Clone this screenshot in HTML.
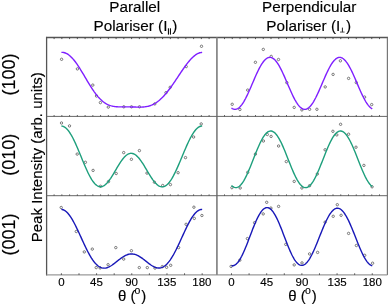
<!DOCTYPE html>
<html><head><meta charset="utf-8">
<style>
html,body{margin:0;padding:0;background:#fff;}
body{width:389px;height:305px;overflow:hidden;position:relative;}
svg{position:absolute;left:0;top:0;will-change:transform;}
text{font-family:"Liberation Sans",sans-serif;fill:#000;stroke:#000;stroke-width:0.15px;}
</style></head><body>
<svg width="389" height="305" viewBox="0 0 389 305">

<text x="109.2" y="12.0" font-size="15.3">Parallel</text>
<text x="93.5" y="30.7" font-size="15.3">Polariser (I</text>
<text x="172.3" y="30.7" font-size="15.3">)</text>
<rect x="167.9" y="28.3" width="1.1" height="6.3" fill="#111"/>
<rect x="169.9" y="28.3" width="1.1" height="6.3" fill="#111"/>
<text x="262" y="12.4" font-size="15.3">Perpendicular</text>
<text x="266.3" y="30.7" font-size="15.3">Polariser (I</text>
<text x="346" y="30.7" font-size="15.3">)</text>
<rect x="341.9" y="27.6" width="1" height="4.6" fill="#222"/>
<rect x="340" y="31.6" width="4.6" height="0.9" fill="#444"/>
<text transform="translate(14.5,74.6) rotate(-90)" text-anchor="middle" font-size="18">(100)</text>
<text transform="translate(14.5,154.7) rotate(-90)" text-anchor="middle" font-size="18">(010)</text>
<text transform="translate(14.5,234.5) rotate(-90)" text-anchor="middle" font-size="18">(001)</text>
<text transform="translate(42.1,157.2) rotate(-90)" text-anchor="middle" font-size="15">Peak Intensity (arb. units)</text>
<g font-size="11.5" text-anchor="middle">
<text x="61.4" y="285.9">0</text><text x="96.5" y="285.9">45</text><text x="131.6" y="285.9">90</text><text x="166.8" y="285.9">135</text><text x="201.9" y="285.9">180</text>
<text x="231.5" y="285.9">0</text><text x="266.7" y="285.9">45</text><text x="301.9" y="285.9">90</text><text x="337.1" y="285.9">135</text><text x="372.3" y="285.9">180</text>
</g>
<text x="118" y="300.5" font-size="15">θ (<tspan font-size="10.5" dx="-0.9" dy="-6.6">o</tspan><tspan dx="0.9" dy="6.6">)</tspan></text>
<text x="288.3" y="300.5" font-size="15">θ (<tspan font-size="10.5" dx="-0.9" dy="-6.6">o</tspan><tspan dx="0.9" dy="6.6">)</tspan></text>

<g stroke="#555" stroke-width="1.3" fill="none"><line x1="46.6" y1="36.9" x2="46.6" y2="275.5"/><line x1="46.0" y1="37.5" x2="388.0" y2="37.5"/></g>
<line x1="387.4" y1="37.5" x2="387.4" y2="274.9" stroke="#777" stroke-width="1.2"/>
<line x1="46.6" y1="274.9" x2="387.4" y2="274.9" stroke="#9a9a9a" stroke-width="1.2"/>
<line x1="216.9" y1="37.5" x2="216.9" y2="274.9" stroke="#8a8a8a" stroke-width="1.8"/>
<line x1="46.6" y1="116.4" x2="387.4" y2="116.4" stroke="#666" stroke-width="1"/>
<line x1="46.6" y1="195.7" x2="387.4" y2="195.7" stroke="#666" stroke-width="1"/>
<path d="M54.10,37.5 v1.6 M54.10,116.4 v-1.3 M54.10,195.7 v-1.3 M61.85,37.5 v1.6 M61.85,116.4 v-1.3 M61.85,195.7 v-1.3 M69.60,37.5 v1.6 M69.60,116.4 v-1.3 M69.60,195.7 v-1.3 M77.35,37.5 v1.6 M77.35,116.4 v-1.3 M77.35,195.7 v-1.3 M85.10,37.5 v1.6 M85.10,116.4 v-1.3 M85.10,195.7 v-1.3 M92.85,37.5 v1.6 M92.85,116.4 v-1.3 M92.85,195.7 v-1.3 M100.60,37.5 v1.6 M100.60,116.4 v-1.3 M100.60,195.7 v-1.3 M108.35,37.5 v1.6 M108.35,116.4 v-1.3 M108.35,195.7 v-1.3 M116.10,37.5 v1.6 M116.10,116.4 v-1.3 M116.10,195.7 v-1.3 M123.85,37.5 v1.6 M123.85,116.4 v-1.3 M123.85,195.7 v-1.3 M131.60,37.5 v1.6 M131.60,116.4 v-1.3 M131.60,195.7 v-1.3 M139.35,37.5 v1.6 M139.35,116.4 v-1.3 M139.35,195.7 v-1.3 M147.10,37.5 v1.6 M147.10,116.4 v-1.3 M147.10,195.7 v-1.3 M154.85,37.5 v1.6 M154.85,116.4 v-1.3 M154.85,195.7 v-1.3 M162.60,37.5 v1.6 M162.60,116.4 v-1.3 M162.60,195.7 v-1.3 M170.35,37.5 v1.6 M170.35,116.4 v-1.3 M170.35,195.7 v-1.3 M178.10,37.5 v1.6 M178.10,116.4 v-1.3 M178.10,195.7 v-1.3 M185.85,37.5 v1.6 M185.85,116.4 v-1.3 M185.85,195.7 v-1.3 M193.60,37.5 v1.6 M193.60,116.4 v-1.3 M193.60,195.7 v-1.3 M201.35,37.5 v1.6 M201.35,116.4 v-1.3 M201.35,195.7 v-1.3 M209.10,37.5 v1.6 M209.10,116.4 v-1.3 M209.10,195.7 v-1.3 M61.40,274.9 v-1.6 M79.00,274.9 v-1.6 M96.59,274.9 v-1.6 M114.19,274.9 v-1.6 M131.78,274.9 v-1.6 M149.38,274.9 v-1.6 M166.97,274.9 v-1.6 M184.56,274.9 v-1.6 M202.16,274.9 v-1.6 M224.50,37.5 v1.6 M224.50,116.4 v-1.3 M224.50,195.7 v-1.3 M232.25,37.5 v1.6 M232.25,116.4 v-1.3 M232.25,195.7 v-1.3 M240.00,37.5 v1.6 M240.00,116.4 v-1.3 M240.00,195.7 v-1.3 M247.75,37.5 v1.6 M247.75,116.4 v-1.3 M247.75,195.7 v-1.3 M255.50,37.5 v1.6 M255.50,116.4 v-1.3 M255.50,195.7 v-1.3 M263.25,37.5 v1.6 M263.25,116.4 v-1.3 M263.25,195.7 v-1.3 M271.00,37.5 v1.6 M271.00,116.4 v-1.3 M271.00,195.7 v-1.3 M278.75,37.5 v1.6 M278.75,116.4 v-1.3 M278.75,195.7 v-1.3 M286.50,37.5 v1.6 M286.50,116.4 v-1.3 M286.50,195.7 v-1.3 M294.25,37.5 v1.6 M294.25,116.4 v-1.3 M294.25,195.7 v-1.3 M302.00,37.5 v1.6 M302.00,116.4 v-1.3 M302.00,195.7 v-1.3 M309.75,37.5 v1.6 M309.75,116.4 v-1.3 M309.75,195.7 v-1.3 M317.50,37.5 v1.6 M317.50,116.4 v-1.3 M317.50,195.7 v-1.3 M325.25,37.5 v1.6 M325.25,116.4 v-1.3 M325.25,195.7 v-1.3 M333.00,37.5 v1.6 M333.00,116.4 v-1.3 M333.00,195.7 v-1.3 M340.75,37.5 v1.6 M340.75,116.4 v-1.3 M340.75,195.7 v-1.3 M348.50,37.5 v1.6 M348.50,116.4 v-1.3 M348.50,195.7 v-1.3 M356.25,37.5 v1.6 M356.25,116.4 v-1.3 M356.25,195.7 v-1.3 M364.00,37.5 v1.6 M364.00,116.4 v-1.3 M364.00,195.7 v-1.3 M371.75,37.5 v1.6 M371.75,116.4 v-1.3 M371.75,195.7 v-1.3 M379.50,37.5 v1.6 M379.50,116.4 v-1.3 M379.50,195.7 v-1.3 M231.50,274.9 v-1.6 M249.09,274.9 v-1.6 M266.69,274.9 v-1.6 M284.29,274.9 v-1.6 M301.88,274.9 v-1.6 M319.48,274.9 v-1.6 M337.07,274.9 v-1.6 M354.67,274.9 v-1.6 M372.26,274.9 v-1.6" stroke="#444" stroke-width="0.9" fill="none"/>
<g fill="none" stroke="#6a6a6a" stroke-width="0.9"><circle cx="61.6" cy="59.3" r="1.2"/><circle cx="77.4" cy="68.9" r="1.2"/><circle cx="92.8" cy="85.1" r="1.2"/><circle cx="96.5" cy="96" r="1.2"/><circle cx="100.4" cy="102.6" r="1.2"/><circle cx="108.3" cy="107.1" r="1.2"/><circle cx="123.8" cy="106.8" r="1.2"/><circle cx="131.5" cy="106.8" r="1.2"/><circle cx="139.5" cy="106.8" r="1.2"/><circle cx="154.8" cy="103.9" r="1.2"/><circle cx="166" cy="92.7" r="1.2"/><circle cx="170.2" cy="87.3" r="1.2"/><circle cx="186.2" cy="66.6" r="1.2"/><circle cx="201.5" cy="46.3" r="1.2"/><circle cx="232.2" cy="104.3" r="1.2"/><circle cx="239.9" cy="109.5" r="1.2"/><circle cx="247.7" cy="90.1" r="1.2"/><circle cx="255.4" cy="62.3" r="1.2"/><circle cx="263.3" cy="49.4" r="1.2"/><circle cx="271.2" cy="56.4" r="1.2"/><circle cx="278.5" cy="59.5" r="1.2"/><circle cx="286.8" cy="82.6" r="1.2"/><circle cx="294.2" cy="107.4" r="1.2"/><circle cx="301.9" cy="109.9" r="1.2"/><circle cx="309.6" cy="109.3" r="1.2"/><circle cx="316.9" cy="109.3" r="1.2"/><circle cx="325.2" cy="86.9" r="1.2"/><circle cx="333.1" cy="74.4" r="1.2"/><circle cx="340.4" cy="60.8" r="1.2"/><circle cx="348.6" cy="78.4" r="1.2"/><circle cx="356.3" cy="82.6" r="1.2"/><circle cx="364.6" cy="97.1" r="1.2"/><circle cx="371.7" cy="104.6" r="1.2"/><circle cx="61.5" cy="123" r="1.2"/><circle cx="69.5" cy="125.9" r="1.2"/><circle cx="77.2" cy="154.1" r="1.2"/><circle cx="85.4" cy="162.3" r="1.2"/><circle cx="93.1" cy="170.4" r="1.2"/><circle cx="100.5" cy="186.3" r="1.2"/><circle cx="108.5" cy="181.6" r="1.2"/><circle cx="116.2" cy="173.5" r="1.2"/><circle cx="123.7" cy="152.6" r="1.2"/><circle cx="131.4" cy="159.3" r="1.2"/><circle cx="139.4" cy="150.6" r="1.2"/><circle cx="147" cy="173.1" r="1.2"/><circle cx="154.4" cy="182.2" r="1.2"/><circle cx="162.7" cy="185.5" r="1.2"/><circle cx="170.4" cy="184.6" r="1.2"/><circle cx="178.1" cy="172.7" r="1.2"/><circle cx="185.5" cy="157.6" r="1.2"/><circle cx="193.6" cy="137" r="1.2"/><circle cx="201.2" cy="123.9" r="1.2"/><circle cx="231.9" cy="187.7" r="1.2"/><circle cx="240.2" cy="188" r="1.2"/><circle cx="247.7" cy="172.4" r="1.2"/><circle cx="255.4" cy="154.1" r="1.2"/><circle cx="263.4" cy="141" r="1.2"/><circle cx="267.3" cy="134.5" r="1.2"/><circle cx="271.1" cy="136.4" r="1.2"/><circle cx="278.6" cy="146" r="1.2"/><circle cx="286.3" cy="161.6" r="1.2"/><circle cx="294.2" cy="181.4" r="1.2"/><circle cx="301.9" cy="188" r="1.2"/><circle cx="309.6" cy="185.7" r="1.2"/><circle cx="317.3" cy="174" r="1.2"/><circle cx="325.1" cy="149.8" r="1.2"/><circle cx="332.9" cy="131.3" r="1.2"/><circle cx="336.8" cy="134.9" r="1.2"/><circle cx="340.6" cy="124.3" r="1.2"/><circle cx="348.6" cy="134.2" r="1.2"/><circle cx="356" cy="147.2" r="1.2"/><circle cx="363.9" cy="165.4" r="1.2"/><circle cx="372.1" cy="186.8" r="1.2"/><circle cx="61.2" cy="207.5" r="1.2"/><circle cx="76.3" cy="231.5" r="1.2"/><circle cx="84.3" cy="251.9" r="1.2"/><circle cx="92.3" cy="249.1" r="1.2"/><circle cx="96.2" cy="267.6" r="1.2"/><circle cx="100.1" cy="267.9" r="1.2"/><circle cx="108.1" cy="264.7" r="1.2"/><circle cx="115.8" cy="247.6" r="1.2"/><circle cx="123.7" cy="259.1" r="1.2"/><circle cx="131.4" cy="250.7" r="1.2"/><circle cx="139.3" cy="267.6" r="1.2"/><circle cx="147.3" cy="267.6" r="1.2"/><circle cx="155" cy="268.1" r="1.2"/><circle cx="162.3" cy="266.6" r="1.2"/><circle cx="166.6" cy="267.3" r="1.2"/><circle cx="170.7" cy="265.3" r="1.2"/><circle cx="178.6" cy="247.6" r="1.2"/><circle cx="186.1" cy="224.3" r="1.2"/><circle cx="193.9" cy="207.2" r="1.2"/><circle cx="194.3" cy="218.4" r="1.2"/><circle cx="201.9" cy="215.5" r="1.2"/><circle cx="231.1" cy="266.4" r="1.2"/><circle cx="239.8" cy="260.2" r="1.2"/><circle cx="247.4" cy="238.6" r="1.2"/><circle cx="254.6" cy="222.7" r="1.2"/><circle cx="263.2" cy="213.9" r="1.2"/><circle cx="266.7" cy="202.3" r="1.2"/><circle cx="270.9" cy="208.1" r="1.2"/><circle cx="278.6" cy="206.4" r="1.2"/><circle cx="285.8" cy="244.4" r="1.2"/><circle cx="294.2" cy="264.9" r="1.2"/><circle cx="302" cy="262.9" r="1.2"/><circle cx="309.6" cy="253.9" r="1.2"/><circle cx="317.6" cy="252.4" r="1.2"/><circle cx="325.1" cy="222.2" r="1.2"/><circle cx="333.2" cy="216.3" r="1.2"/><circle cx="337.3" cy="204.7" r="1.2"/><circle cx="341.1" cy="215.3" r="1.2"/><circle cx="348.6" cy="233.4" r="1.2"/><circle cx="356.4" cy="245.5" r="1.2"/><circle cx="364.7" cy="255.3" r="1.2"/><circle cx="372.6" cy="263.2" r="1.2"/></g>
<path d="M61.40,52.36 L62.18,52.35 L62.96,52.41 L63.75,52.54 L64.53,52.73 L65.31,52.99 L66.09,53.32 L66.87,53.71 L67.66,54.17 L68.44,54.69 L69.22,55.27 L70.00,55.92 L70.78,56.63 L71.57,57.40 L72.35,58.22 L73.13,59.10 L73.91,60.03 L74.69,61.00 L75.48,62.03 L76.26,63.10 L77.04,64.21 L77.82,65.36 L78.60,66.54 L79.39,67.75 L80.17,69.00 L80.95,70.26 L81.73,71.54 L82.51,72.85 L83.30,74.16 L84.08,75.48 L84.86,76.81 L85.64,78.14 L86.42,79.46 L87.21,80.78 L87.99,82.09 L88.77,83.39 L89.55,84.67 L90.33,85.93 L91.12,87.17 L91.90,88.38 L92.68,89.56 L93.46,90.71 L94.24,91.83 L95.03,92.91 L95.81,93.96 L96.59,94.96 L97.37,95.92 L98.15,96.85 L98.94,97.72 L99.72,98.56 L100.50,99.35 L101.28,100.09 L102.06,100.79 L102.85,101.44 L103.63,102.05 L104.41,102.62 L105.19,103.14 L105.97,103.62 L106.76,104.06 L107.54,104.46 L108.32,104.82 L109.10,105.14 L109.88,105.43 L110.67,105.68 L111.45,105.90 L112.23,106.10 L113.01,106.26 L113.79,106.40 L114.58,106.52 L115.36,106.62 L116.14,106.70 L116.92,106.76 L117.70,106.81 L118.49,106.84 L119.27,106.87 L120.05,106.88 L120.83,106.89 L121.61,106.89 L122.40,106.89 L123.18,106.89 L123.96,106.88 L124.74,106.88 L125.52,106.88 L126.31,106.88 L127.09,106.88 L127.87,106.88 L128.65,106.89 L129.43,106.90 L130.22,106.91 L131.00,106.93 L131.78,106.95 L132.56,106.97 L133.34,107.00 L134.13,107.02 L134.91,107.05 L135.69,107.07 L136.47,107.09 L137.25,107.11 L138.04,107.12 L138.82,107.13 L139.60,107.13 L140.38,107.13 L141.16,107.11 L141.95,107.08 L142.73,107.03 L143.51,106.97 L144.29,106.89 L145.07,106.80 L145.86,106.68 L146.64,106.55 L147.42,106.39 L148.20,106.20 L148.98,105.99 L149.77,105.75 L150.55,105.48 L151.33,105.19 L152.11,104.86 L152.89,104.50 L153.68,104.11 L154.46,103.69 L155.24,103.23 L156.02,102.74 L156.80,102.21 L157.59,101.65 L158.37,101.05 L159.15,100.42 L159.93,99.76 L160.71,99.06 L161.50,98.32 L162.28,97.56 L163.06,96.76 L163.84,95.92 L164.62,95.06 L165.41,94.16 L166.19,93.24 L166.97,92.29 L167.75,91.31 L168.53,90.30 L169.32,89.27 L170.10,88.22 L170.88,87.15 L171.66,86.05 L172.44,84.94 L173.23,83.82 L174.01,82.68 L174.79,81.53 L175.57,80.37 L176.35,79.20 L177.14,78.02 L177.92,76.85 L178.70,75.67 L179.48,74.49 L180.26,73.32 L181.05,72.16 L181.83,71.00 L182.61,69.86 L183.39,68.73 L184.17,67.62 L184.96,66.53 L185.74,65.45 L186.52,64.41 L187.30,63.39 L188.08,62.40 L188.87,61.44 L189.65,60.52 L190.43,59.64 L191.21,58.79 L191.99,57.99 L192.78,57.23 L193.56,56.52 L194.34,55.86 L195.12,55.25 L195.90,54.69 L196.69,54.19 L197.47,53.74 L198.25,53.36 L199.03,53.03 L199.81,52.77 L200.60,52.57 L201.38,52.43 L202.16,52.36" stroke="#7f1fff" stroke-width="1.4" fill="none" stroke-linejoin="round"/>
<path d="M61.40,126.03 L62.18,126.10 L62.96,126.29 L63.75,126.60 L64.53,127.02 L65.31,127.56 L66.09,128.20 L66.87,128.96 L67.66,129.82 L68.44,130.78 L69.22,131.85 L70.00,133.01 L70.78,134.26 L71.57,135.60 L72.35,137.02 L73.13,138.52 L73.91,140.09 L74.69,141.73 L75.48,143.42 L76.26,145.17 L77.04,146.96 L77.82,148.79 L78.60,150.65 L79.39,152.53 L80.17,154.44 L80.95,156.35 L81.73,158.26 L82.51,160.16 L83.30,162.05 L84.08,163.92 L84.86,165.76 L85.64,167.57 L86.42,169.32 L87.21,171.03 L87.99,172.68 L88.77,174.26 L89.55,175.77 L90.33,177.21 L91.12,178.55 L91.90,179.82 L92.68,180.98 L93.46,182.05 L94.24,183.02 L95.03,183.88 L95.81,184.63 L96.59,185.26 L97.37,185.79 L98.15,186.20 L98.94,186.49 L99.72,186.67 L100.50,186.74 L101.28,186.68 L102.06,186.52 L102.85,186.24 L103.63,185.86 L104.41,185.37 L105.19,184.78 L105.97,184.10 L106.76,183.32 L107.54,182.46 L108.32,181.52 L109.10,180.51 L109.88,179.43 L110.67,178.29 L111.45,177.09 L112.23,175.86 L113.01,174.59 L113.79,173.28 L114.58,171.96 L115.36,170.63 L116.14,169.30 L116.92,167.97 L117.70,166.65 L118.49,165.36 L119.27,164.10 L120.05,162.87 L120.83,161.70 L121.61,160.57 L122.40,159.50 L123.18,158.51 L123.96,157.58 L124.74,156.73 L125.52,155.97 L126.31,155.30 L127.09,154.72 L127.87,154.23 L128.65,153.85 L129.43,153.56 L130.22,153.38 L131.00,153.31 L131.78,153.34 L132.56,153.47 L133.34,153.71 L134.13,154.04 L134.91,154.48 L135.69,155.02 L136.47,155.65 L137.25,156.37 L138.04,157.17 L138.82,158.06 L139.60,159.02 L140.38,160.05 L141.16,161.14 L141.95,162.28 L142.73,163.48 L143.51,164.71 L144.29,165.98 L145.07,167.28 L145.86,168.59 L146.64,169.91 L147.42,171.24 L148.20,172.55 L148.98,173.85 L149.77,175.13 L150.55,176.38 L151.33,177.59 L152.11,178.75 L152.89,179.86 L153.68,180.91 L154.46,181.89 L155.24,182.79 L156.02,183.62 L156.80,184.37 L157.59,185.02 L158.37,185.58 L159.15,186.04 L159.93,186.40 L160.71,186.65 L161.50,186.80 L162.28,186.84 L163.06,186.77 L163.84,186.58 L164.62,186.29 L165.41,185.88 L166.19,185.36 L166.97,184.74 L167.75,184.01 L168.53,183.17 L169.32,182.23 L170.10,181.19 L170.88,180.06 L171.66,178.83 L172.44,177.52 L173.23,176.13 L174.01,174.66 L174.79,173.13 L175.57,171.53 L176.35,169.87 L177.14,168.16 L177.92,166.40 L178.70,164.61 L179.48,162.78 L180.26,160.93 L181.05,159.07 L181.83,157.19 L182.61,155.31 L183.39,153.44 L184.17,151.58 L184.96,149.74 L185.74,147.92 L186.52,146.13 L187.30,144.39 L188.08,142.69 L188.87,141.05 L189.65,139.46 L190.43,137.94 L191.21,136.48 L191.99,135.11 L192.78,133.81 L193.56,132.60 L194.34,131.48 L195.12,130.46 L195.90,129.53 L196.69,128.71 L197.47,127.99 L198.25,127.38 L199.03,126.89 L199.81,126.50 L200.60,126.23 L201.38,126.07 L202.16,126.03" stroke="#1d9f7c" stroke-width="1.4" fill="none" stroke-linejoin="round"/>
<path d="M61.40,209.42 L62.18,209.51 L62.96,209.71 L63.75,210.02 L64.53,210.43 L65.31,210.94 L66.09,211.55 L66.87,212.26 L67.66,213.07 L68.44,213.97 L69.22,214.95 L70.00,216.02 L70.78,217.18 L71.57,218.41 L72.35,219.71 L73.13,221.07 L73.91,222.50 L74.69,223.99 L75.48,225.52 L76.26,227.10 L77.04,228.72 L77.82,230.37 L78.60,232.04 L79.39,233.74 L80.17,235.45 L80.95,237.16 L81.73,238.88 L82.51,240.60 L83.30,242.30 L84.08,243.99 L84.86,245.65 L85.64,247.29 L86.42,248.89 L87.21,250.45 L87.99,251.97 L88.77,253.44 L89.55,254.86 L90.33,256.22 L91.12,257.51 L91.90,258.75 L92.68,259.91 L93.46,261.01 L94.24,262.03 L95.03,262.97 L95.81,263.84 L96.59,264.63 L97.37,265.34 L98.15,265.97 L98.94,266.52 L99.72,266.98 L100.50,267.37 L101.28,267.68 L102.06,267.91 L102.85,268.07 L103.63,268.15 L104.41,268.15 L105.19,268.09 L105.97,267.97 L106.76,267.78 L107.54,267.53 L108.32,267.22 L109.10,266.86 L109.88,266.46 L110.67,266.01 L111.45,265.52 L112.23,265.00 L113.01,264.44 L113.79,263.87 L114.58,263.27 L115.36,262.66 L116.14,262.04 L116.92,261.41 L117.70,260.78 L118.49,260.16 L119.27,259.54 L120.05,258.94 L120.83,258.36 L121.61,257.79 L122.40,257.26 L123.18,256.75 L123.96,256.28 L124.74,255.84 L125.52,255.44 L126.31,255.09 L127.09,254.78 L127.87,254.51 L128.65,254.30 L129.43,254.13 L130.22,254.02 L131.00,253.96 L131.78,253.95 L132.56,253.99 L133.34,254.08 L134.13,254.23 L134.91,254.42 L135.69,254.67 L136.47,254.96 L137.25,255.30 L138.04,255.68 L138.82,256.10 L139.60,256.56 L140.38,257.05 L141.16,257.57 L141.95,258.12 L142.73,258.69 L143.51,259.29 L144.29,259.89 L145.07,260.51 L145.86,261.13 L146.64,261.76 L147.42,262.38 L148.20,262.99 L148.98,263.59 L149.77,264.17 L150.55,264.72 L151.33,265.25 L152.11,265.75 L152.89,266.21 L153.68,266.62 L154.46,266.99 L155.24,267.31 L156.02,267.58 L156.80,267.78 L157.59,267.93 L158.37,268.01 L159.15,268.02 L159.93,267.96 L160.71,267.82 L161.50,267.62 L162.28,267.33 L163.06,266.96 L163.84,266.52 L164.62,266.00 L165.41,265.39 L166.19,264.70 L166.97,263.94 L167.75,263.10 L168.53,262.17 L169.32,261.18 L170.10,260.10 L170.88,258.96 L171.66,257.75 L172.44,256.47 L173.23,255.13 L174.01,253.73 L174.79,252.28 L175.57,250.77 L176.35,249.22 L177.14,247.64 L177.92,246.01 L178.70,244.36 L179.48,242.68 L180.26,240.98 L181.05,239.28 L181.83,237.56 L182.61,235.85 L183.39,234.14 L184.17,232.44 L184.96,230.76 L185.74,229.11 L186.52,227.48 L187.30,225.90 L188.08,224.35 L188.87,222.86 L189.65,221.42 L190.43,220.04 L191.21,218.72 L191.99,217.47 L192.78,216.30 L193.56,215.21 L194.34,214.20 L195.12,213.28 L195.90,212.45 L196.69,211.72 L197.47,211.08 L198.25,210.55 L199.03,210.11 L199.81,209.78 L200.60,209.55 L201.38,209.43 L202.16,209.42" stroke="#1818b8" stroke-width="1.4" fill="none" stroke-linejoin="round"/>
<path d="M231.50,108.03 L232.28,108.54 L233.06,108.93 L233.85,109.19 L234.63,109.32 L235.41,109.32 L236.19,109.19 L236.97,108.94 L237.76,108.56 L238.54,108.05 L239.32,107.42 L240.10,106.67 L240.88,105.80 L241.67,104.83 L242.45,103.75 L243.23,102.56 L244.01,101.28 L244.79,99.91 L245.58,98.46 L246.36,96.94 L247.14,95.35 L247.92,93.69 L248.70,91.99 L249.49,90.24 L250.27,88.46 L251.05,86.66 L251.83,84.84 L252.61,83.01 L253.40,81.18 L254.18,79.36 L254.96,77.56 L255.74,75.79 L256.52,74.06 L257.31,72.38 L258.09,70.75 L258.87,69.18 L259.65,67.68 L260.43,66.26 L261.22,64.92 L262.00,63.68 L262.78,62.53 L263.56,61.49 L264.34,60.55 L265.13,59.73 L265.91,59.02 L266.69,58.44 L267.47,57.98 L268.25,57.64 L269.04,57.44 L269.82,57.36 L270.60,57.41 L271.38,57.58 L272.16,57.89 L272.95,58.32 L273.73,58.88 L274.51,59.56 L275.29,60.35 L276.07,61.26 L276.86,62.28 L277.64,63.40 L278.42,64.63 L279.20,65.94 L279.98,67.34 L280.77,68.82 L281.55,70.38 L282.33,71.99 L283.11,73.67 L283.89,75.39 L284.68,77.15 L285.46,78.94 L286.24,80.76 L287.02,82.58 L287.80,84.41 L288.59,86.24 L289.37,88.05 L290.15,89.84 L290.93,91.59 L291.71,93.30 L292.50,94.97 L293.28,96.58 L294.06,98.12 L294.84,99.59 L295.62,100.97 L296.41,102.27 L297.19,103.48 L297.97,104.59 L298.75,105.59 L299.53,106.48 L300.32,107.26 L301.10,107.91 L301.88,108.45 L302.66,108.86 L303.44,109.15 L304.23,109.30 L305.01,109.33 L305.79,109.23 L306.57,109.00 L307.35,108.64 L308.14,108.16 L308.92,107.56 L309.70,106.83 L310.48,105.99 L311.26,105.04 L312.05,103.98 L312.83,102.81 L313.61,101.55 L314.39,100.20 L315.17,98.77 L315.96,97.26 L316.74,95.68 L317.52,94.04 L318.30,92.34 L319.08,90.61 L319.87,88.83 L320.65,87.03 L321.43,85.21 L322.21,83.38 L322.99,81.55 L323.78,79.73 L324.56,77.93 L325.34,76.15 L326.12,74.41 L326.90,72.72 L327.69,71.08 L328.47,69.49 L329.25,67.98 L330.03,66.54 L330.81,65.19 L331.60,63.93 L332.38,62.76 L333.16,61.69 L333.94,60.74 L334.72,59.89 L335.51,59.16 L336.29,58.55 L337.07,58.06 L337.85,57.70 L338.63,57.47 L339.42,57.36 L340.20,57.39 L340.98,57.54 L341.76,57.82 L342.54,58.22 L343.33,58.75 L344.11,59.41 L344.89,60.18 L345.67,61.07 L346.45,62.06 L347.24,63.16 L348.02,64.37 L348.80,65.66 L349.58,67.05 L350.36,68.51 L351.15,70.05 L351.93,71.66 L352.71,73.32 L353.49,75.03 L354.27,76.79 L355.06,78.57 L355.84,80.38 L356.62,82.21 L357.40,84.04 L358.18,85.86 L358.97,87.68 L359.75,89.47 L360.53,91.23 L361.31,92.96 L362.09,94.63 L362.88,96.25 L363.66,97.81 L364.44,99.29 L365.22,100.70 L366.00,102.01 L366.79,103.24 L367.57,104.37 L368.35,105.39 L369.13,106.31 L369.91,107.11 L370.70,107.79 L371.48,108.35 L372.26,108.79" stroke="#7f1fff" stroke-width="1.4" fill="none" stroke-linejoin="round"/>
<path d="M231.50,185.46 L232.28,186.15 L233.06,186.71 L233.85,187.14 L234.63,187.43 L235.41,187.58 L236.19,187.59 L236.97,187.45 L237.76,187.18 L238.54,186.77 L239.32,186.23 L240.10,185.55 L240.88,184.74 L241.67,183.80 L242.45,182.74 L243.23,181.57 L244.01,180.29 L244.79,178.90 L245.58,177.41 L246.36,175.84 L247.14,174.18 L247.92,172.45 L248.70,170.65 L249.49,168.80 L250.27,166.90 L251.05,164.96 L251.83,162.99 L252.61,161.01 L253.40,159.02 L254.18,157.03 L254.96,155.05 L255.74,153.09 L256.52,151.16 L257.31,149.27 L258.09,147.43 L258.87,145.66 L259.65,143.94 L260.43,142.31 L261.22,140.76 L262.00,139.30 L262.78,137.94 L263.56,136.69 L264.34,135.54 L265.13,134.52 L265.91,133.62 L266.69,132.85 L267.47,132.20 L268.25,131.70 L269.04,131.33 L269.82,131.09 L270.60,131.00 L271.38,131.05 L272.16,131.24 L272.95,131.57 L273.73,132.03 L274.51,132.63 L275.29,133.36 L276.07,134.22 L276.86,135.21 L277.64,136.32 L278.42,137.53 L279.20,138.86 L279.98,140.29 L280.77,141.81 L281.55,143.42 L282.33,145.11 L283.11,146.87 L283.89,148.69 L284.68,150.56 L285.46,152.48 L286.24,154.43 L287.02,156.40 L287.80,158.39 L288.59,160.39 L289.37,162.37 L290.15,164.35 L290.93,166.29 L291.71,168.21 L292.50,170.07 L293.28,171.89 L294.06,173.64 L294.84,175.32 L295.62,176.93 L296.41,178.44 L297.19,179.86 L297.97,181.18 L298.75,182.39 L299.53,183.48 L300.32,184.46 L301.10,185.31 L301.88,186.03 L302.66,186.62 L303.44,187.07 L304.23,187.38 L305.01,187.56 L305.79,187.60 L306.57,187.49 L307.35,187.25 L308.14,186.86 L308.92,186.34 L309.70,185.69 L310.48,184.90 L311.26,183.99 L312.05,182.96 L312.83,181.81 L313.61,180.54 L314.39,179.17 L315.17,177.71 L315.96,176.15 L316.74,174.51 L317.52,172.79 L318.30,171.00 L319.08,169.16 L319.87,167.27 L320.65,165.34 L321.43,163.38 L322.21,161.40 L322.99,159.40 L323.78,157.41 L324.56,155.43 L325.34,153.47 L326.12,151.53 L326.90,149.64 L327.69,147.79 L328.47,146.00 L329.25,144.27 L330.03,142.62 L330.81,141.05 L331.60,139.58 L332.38,138.20 L333.16,136.92 L333.94,135.76 L334.72,134.71 L335.51,133.79 L336.29,132.99 L337.07,132.32 L337.85,131.78 L338.63,131.39 L339.42,131.13 L340.20,131.01 L340.98,131.03 L341.76,131.19 L342.54,131.49 L343.33,131.93 L344.11,132.50 L344.89,133.21 L345.67,134.05 L346.45,135.01 L347.24,136.09 L348.02,137.29 L348.80,138.60 L349.58,140.01 L350.36,141.51 L351.15,143.10 L351.93,144.78 L352.71,146.52 L353.49,148.33 L354.27,150.20 L355.06,152.10 L355.84,154.05 L356.62,156.02 L357.40,158.01 L358.18,160.00 L358.97,161.99 L359.75,163.96 L360.53,165.92 L361.31,167.84 L362.09,169.72 L362.88,171.54 L363.66,173.31 L364.44,175.00 L365.22,176.62 L366.00,178.15 L366.79,179.59 L367.57,180.93 L368.35,182.16 L369.13,183.28 L369.91,184.28 L370.70,185.15 L371.48,185.90 L372.26,186.51" stroke="#1d9f7c" stroke-width="1.4" fill="none" stroke-linejoin="round"/>
<path d="M231.50,265.71 L232.28,265.80 L233.06,265.74 L233.85,265.54 L234.63,265.20 L235.41,264.72 L236.19,264.10 L236.97,263.35 L237.76,262.47 L238.54,261.45 L239.32,260.32 L240.10,259.07 L240.88,257.70 L241.67,256.23 L242.45,254.67 L243.23,253.01 L244.01,251.27 L244.79,249.45 L245.58,247.57 L246.36,245.64 L247.14,243.66 L247.92,241.64 L248.70,239.60 L249.49,237.54 L250.27,235.48 L251.05,233.42 L251.83,231.38 L252.61,229.36 L253.40,227.38 L254.18,225.45 L254.96,223.57 L255.74,221.76 L256.52,220.02 L257.31,218.37 L258.09,216.81 L258.87,215.35 L259.65,214.00 L260.43,212.76 L261.22,211.64 L262.00,210.65 L262.78,209.80 L263.56,209.08 L264.34,208.50 L265.13,208.06 L265.91,207.77 L266.69,207.62 L267.47,207.63 L268.25,207.78 L269.04,208.07 L269.82,208.52 L270.60,209.10 L271.38,209.82 L272.16,210.69 L272.95,211.68 L273.73,212.79 L274.51,214.03 L275.29,215.39 L276.07,216.84 L276.86,218.40 L277.64,220.05 L278.42,221.78 L279.20,223.59 L279.98,225.46 L280.77,227.39 L281.55,229.36 L282.33,231.36 L283.11,233.39 L283.89,235.44 L284.68,237.49 L285.46,239.53 L286.24,241.56 L287.02,243.56 L287.80,245.52 L288.59,247.44 L289.37,249.30 L290.15,251.10 L290.93,252.82 L291.71,254.46 L292.50,256.01 L293.28,257.46 L294.06,258.81 L294.84,260.04 L295.62,261.16 L296.41,262.16 L297.19,263.03 L297.97,263.77 L298.75,264.37 L299.53,264.84 L300.32,265.17 L301.10,265.36 L301.88,265.41 L302.66,265.32 L303.44,265.10 L304.23,264.73 L305.01,264.23 L305.79,263.59 L306.57,262.83 L307.35,261.94 L308.14,260.92 L308.92,259.80 L309.70,258.56 L310.48,257.22 L311.26,255.78 L312.05,254.26 L312.83,252.65 L313.61,250.96 L314.39,249.21 L315.17,247.41 L315.96,245.55 L316.74,243.65 L317.52,241.72 L318.30,239.77 L319.08,237.81 L319.87,235.84 L320.65,233.88 L321.43,231.94 L322.21,230.01 L322.99,228.12 L323.78,226.28 L324.56,224.48 L325.34,222.74 L326.12,221.07 L326.90,219.47 L327.69,217.95 L328.47,216.52 L329.25,215.19 L330.03,213.96 L330.81,212.83 L331.60,211.82 L332.38,210.92 L333.16,210.15 L333.94,209.50 L334.72,208.97 L335.51,208.58 L336.29,208.31 L337.07,208.18 L337.85,208.18 L338.63,208.32 L339.42,208.59 L340.20,208.99 L340.98,209.52 L341.76,210.18 L342.54,210.96 L343.33,211.86 L344.11,212.88 L344.89,214.02 L345.67,215.26 L346.45,216.60 L347.24,218.04 L348.02,219.56 L348.80,221.17 L349.58,222.86 L350.36,224.61 L351.15,226.42 L351.93,228.28 L352.71,230.18 L353.49,232.12 L354.27,234.08 L355.06,236.05 L355.84,238.04 L356.62,240.01 L357.40,241.98 L358.18,243.92 L358.97,245.83 L359.75,247.70 L360.53,249.52 L361.31,251.29 L362.09,252.98 L362.88,254.60 L363.66,256.14 L364.44,257.59 L365.22,258.93 L366.00,260.18 L366.79,261.31 L367.57,262.32 L368.35,263.22 L369.13,263.98 L369.91,264.62 L370.70,265.12 L371.48,265.49 L372.26,265.71" stroke="#1818b8" stroke-width="1.4" fill="none" stroke-linejoin="round"/>
</svg>
</body></html>
